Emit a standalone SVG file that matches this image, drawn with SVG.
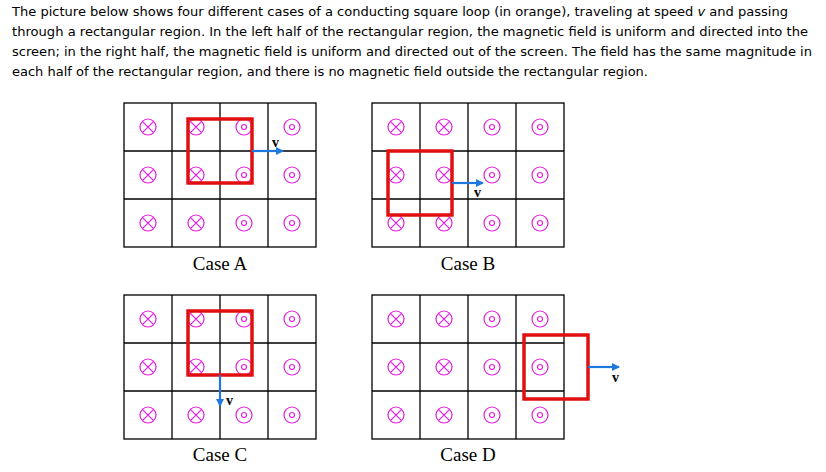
<svg xmlns="http://www.w3.org/2000/svg" width="826" height="472" viewBox="0 0 826 472">
<style>
.t{font-family:"DejaVu Sans",Verdana,sans-serif;font-size:12.5px;fill:#000}
.g{fill:none;stroke:#000;stroke-width:1.3}
.s{fill:none;stroke:#e020e0;stroke-width:1.2}
.loop{fill:none;stroke:#e01010;stroke-width:3.5}
.ar{stroke:#1e78e0;stroke-width:2.2;fill:none}
.v{font-family:"Liberation Serif",serif;font-weight:bold;font-size:14px}
.cap{font-family:"Liberation Serif",serif;font-size:19px;text-anchor:middle}
</style>
<defs>
<g id="x"><circle class="s" r="8"/><path class="s" d="M-5.6,-5.6L5.6,5.6M-5.6,5.6L5.6,-5.6"/></g>
<g id="o"><circle class="s" r="8"/><circle class="s" r="2.5"/></g>
<g id="grid">
<rect class="g" x="0" y="0" width="192" height="144"/>
<path class="g" d="M48,0V144M96,0V144M144,0V144M0,48H192M0,96H192"/>
<use href="#x" x="24" y="24"/><use href="#x" x="72" y="24"/><use href="#o" x="120" y="24"/><use href="#o" x="168" y="24"/>
<use href="#x" x="24" y="72"/><use href="#x" x="72" y="72"/><use href="#o" x="120" y="72"/><use href="#o" x="168" y="72"/>
<use href="#x" x="24" y="120"/><use href="#x" x="72" y="120"/><use href="#o" x="120" y="120"/><use href="#o" x="168" y="120"/>
</g>
<marker id="ah" markerWidth="8" markerHeight="8" refX="7" refY="4" orient="auto" markerUnits="userSpaceOnUse"><path d="M0,0L8,4L0,8z" fill="#1e78e0"/></marker>
</defs>
<g id="intro">
<text class="t" x="12" y="16" textLength="776" lengthAdjust="spacingAndGlyphs">The picture below shows four different cases of a conducting square loop (in orange), traveling at speed <tspan font-style="italic">v</tspan> and passing</text>
<text class="t" x="12" y="36" textLength="796" lengthAdjust="spacingAndGlyphs">through a rectangular region. In the left half of the rectangular region, the magnetic field is uniform and directed into the</text>
<text class="t" x="12" y="56" textLength="800" lengthAdjust="spacingAndGlyphs">screen; in the right half, the magnetic field is uniform and directed out of the screen. The field has the same magnitude in</text>
<text class="t" x="12" y="76" textLength="636" lengthAdjust="spacingAndGlyphs">each half of the rectangular region, and there is no magnetic field outside the rectangular region.</text>
</g>
<g id="caseA"><use href="#grid" x="124" y="103"/><rect class="loop" x="188" y="119" width="64" height="64"/><text class="cap" x="220" y="270">Case A</text></g>
<g id="caseB"><use href="#grid" x="372" y="103"/><rect class="loop" x="388" y="151" width="64" height="64"/><text class="cap" x="468" y="270">Case B</text></g>
<g id="caseC"><use href="#grid" x="124" y="295"/><rect class="loop" x="188" y="311" width="64" height="64"/><text class="cap" x="220" y="461">Case C</text></g>
<g id="caseD"><use href="#grid" x="372" y="295"/><rect class="loop" x="524" y="335" width="64" height="64"/><text class="cap" x="468" y="461">Case D</text></g>
<g id="connectors">
<path class="ar" d="M252,151H283" marker-end="url(#ah)"/><text class="v" x="272" y="147">v</text>
<path class="ar" d="M452,183H483" marker-end="url(#ah)"/><text class="v" x="474" y="197">v</text>
<path class="ar" d="M220,375V406" marker-end="url(#ah)"/><text class="v" x="226" y="405">v</text>
<path class="ar" d="M588,367H619" marker-end="url(#ah)"/><text class="v" x="612" y="382">v</text>
</g>
</svg>
